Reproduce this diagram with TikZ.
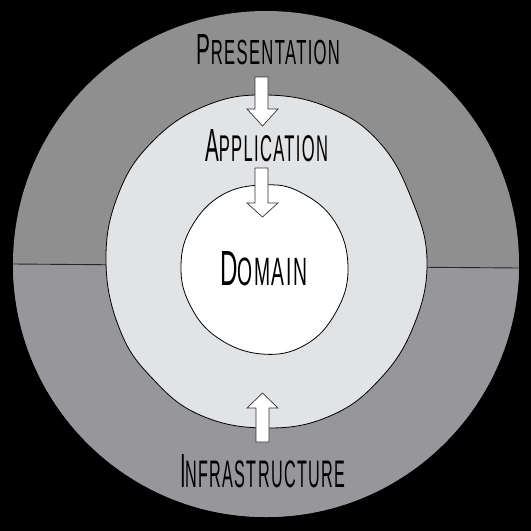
\documentclass[tikz,border=0pt]{standalone}
\usepackage{fontspec}
\setmainfont{Liberation Sans}[LetterSpace=8]
\usepackage{graphicx}
\definecolor{bgblack}{HTML}{000000}
\definecolor{topgrey}{HTML}{8F8F8F}
\definecolor{botgrey}{HTML}{97979B}
\definecolor{lightgrey}{HTML}{E2E3E5}
\newcommand{\layername}[4]{\resizebox{#3pt}{#4pt}{\fontsize{40}{40}\selectfont #1\fontsize{32}{32}\selectfont #2}}
\tikzset{
  label/.style={inner sep=0pt, outer sep=0pt, text=black},
  blockarrow/.style={fill=white, draw=black!80, line width=0.7pt, line join=miter},
  ring/.style={draw=black, line width=0.8pt}
}
\begin{document}
\begin{tikzpicture}[x=1pt,y=-1pt]
\useasboundingbox (0,0) rectangle (531,531);
\fill[bgblack] (0,0) rectangle (531,531);
% outer circle, two halves
\fill[topgrey] (266,264) circle (253);
\begin{scope}
  \clip (0,264) -- (531,268) -- (531,531) -- (0,531) -- cycle;
  \fill[botgrey] (266,264) circle (253);
\end{scope}
\coordinate (divL) at (13,264);
\coordinate (divR) at (519,268);
\draw[black!85, line width=0.9pt] (divL) -- (divR);
% application ring
\draw[ring, fill=lightgrey] plot[smooth cycle, tension=0.7] coordinates {
  (427,261) (412,200) (380,143) (330,108) (266,95) (205,106) (152,142) (118,195)
  (106,262) (120,330) (152,378) (200,415) (266,428) (330,416) (380,379) (414,325)};
% domain circle
\draw[ring, fill=white] plot[smooth cycle, tension=0.7] coordinates {
  (348,268) (335,222) (300,192) (263,185) (222,195) (192,226) (181,265) (190,305)
  (218,338) (262,354) (305,345) (336,312)};
% arrows
\draw[blockarrow] (255,77) -- (268,77) -- (268,109) -- (278,109) -- (262.5,126) -- (247,109) -- (255,109) -- cycle;
\draw[blockarrow] (255,168) -- (268,168) -- (268,203) -- (278,203) -- (262.5,217) -- (247,203) -- (255,203) -- cycle;
\draw[blockarrow] (256,442) -- (269,442) -- (269,408) -- (278,408) -- (262.5,393) -- (247,408) -- (256,408) -- cycle;
% labels
\node[label] (pres) at (268.5,50) {\layername{P}{RESENTATION}{143}{30}};
\node[label] (app) at (266.5,146) {\layername{A}{PPLICATION}{123}{32}};
\node[label] (dom) at (263.5,269) {\layername{D}{OMAIN}{87}{34}};
\node[label] (infra) at (262.5,471.5) {\layername{I}{NFRASTRUCTURE}{165}{33}};
\end{tikzpicture}
\end{document}
